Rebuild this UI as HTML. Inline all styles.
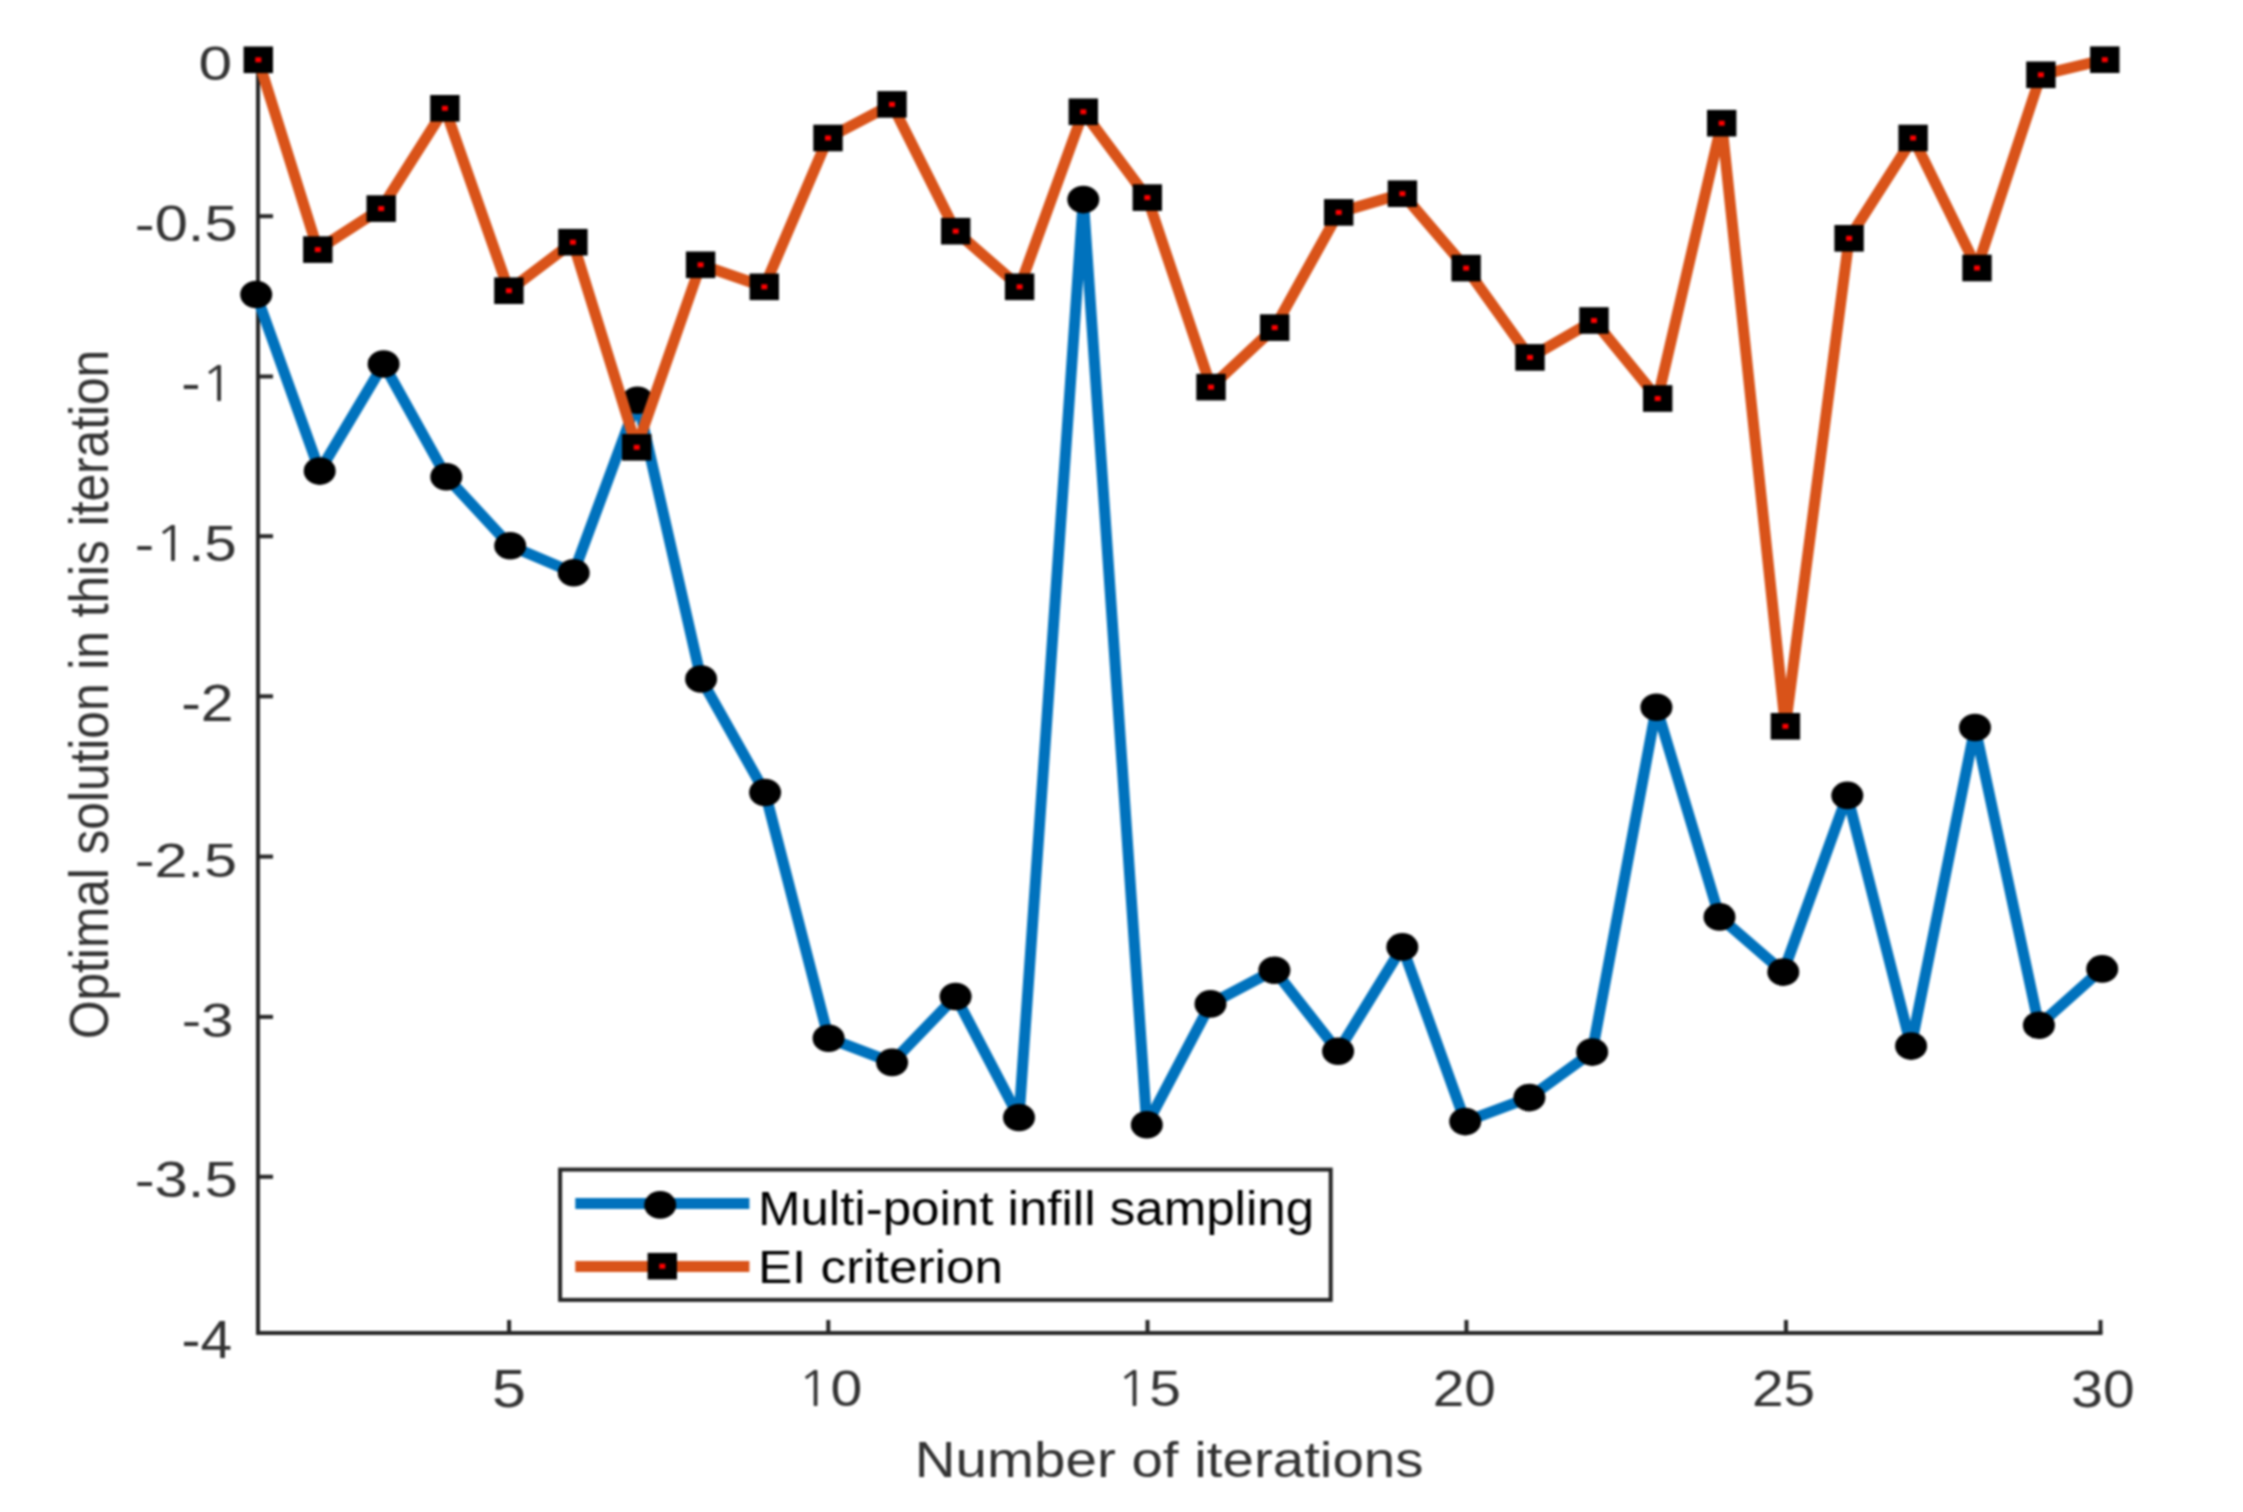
<!DOCTYPE html>
<html><head><meta charset="utf-8"><title>Optimal solution chart</title>
<style>html,body{margin:0;padding:0;background:#fff;overflow:hidden}svg{display:block;filter:blur(1px)}</style>
</head><body>
<svg width="2243" height="1512" viewBox="0 0 2243 1512">
<rect width="2243" height="1512" fill="#fff"/>
<g stroke="#262626" stroke-width="4" fill="none" stroke-linecap="butt">
<path d="M258.0,57.0 V1333.0 H2102.5"/>
<path d="M258.0,216.2 H273.0"/>
<path d="M258.0,376.5 H273.0"/>
<path d="M258.0,536.2 H273.0"/>
<path d="M258.0,696.3 H273.0"/>
<path d="M258.0,856.6 H273.0"/>
<path d="M258.0,1016.9 H273.0"/>
<path d="M258.0,1176.8 H273.0"/>
<path d="M509.1,1333.0 V1320.0"/>
<path d="M828.3,1333.0 V1320.0"/>
<path d="M1147.5,1333.0 V1320.0"/>
<path d="M1466.5,1333.0 V1320.0"/>
<path d="M1785.9,1333.0 V1320.0"/>
<path d="M2100.5,1333.0 V1320.0"/>
</g>
<polyline points="256.2,294.5 319.7,471.1 383.6,364.0 446.3,476.7 510.2,545.7 573.7,572.7 637.5,400.3 701.1,679.0 765.1,792.5 828.6,1038.2 892.1,1062.4 955.6,996.5 1019.0,1117.5 1083.3,199.6 1146.8,1124.8 1210.5,1003.9 1274.4,970.2 1338.1,1051.3 1402.3,946.9 1465.2,1121.6 1529.4,1097.6 1592.2,1052.1 1656.4,707.2 1719.5,916.9 1783.3,972.1 1847.3,795.4 1911.1,1046.1 1975.0,727.5 2038.9,1025.3 2102.2,968.9" fill="none" stroke="#0072BD" stroke-width="11" stroke-linejoin="round"/>
<g fill="#000"><ellipse cx="256.2" cy="294.5" rx="16" ry="13.8"/><ellipse cx="319.7" cy="471.1" rx="16" ry="13.8"/><ellipse cx="383.6" cy="364.0" rx="16" ry="13.8"/><ellipse cx="446.3" cy="476.7" rx="16" ry="13.8"/><ellipse cx="510.2" cy="545.7" rx="16" ry="13.8"/><ellipse cx="573.7" cy="572.7" rx="16" ry="13.8"/><ellipse cx="637.5" cy="400.3" rx="16" ry="13.8"/><ellipse cx="701.1" cy="679.0" rx="16" ry="13.8"/><ellipse cx="765.1" cy="792.5" rx="16" ry="13.8"/><ellipse cx="828.6" cy="1038.2" rx="16" ry="13.8"/><ellipse cx="892.1" cy="1062.4" rx="16" ry="13.8"/><ellipse cx="955.6" cy="996.5" rx="16" ry="13.8"/><ellipse cx="1019.0" cy="1117.5" rx="16" ry="13.8"/><ellipse cx="1083.3" cy="199.6" rx="16" ry="13.8"/><ellipse cx="1146.8" cy="1124.8" rx="16" ry="13.8"/><ellipse cx="1210.5" cy="1003.9" rx="16" ry="13.8"/><ellipse cx="1274.4" cy="970.2" rx="16" ry="13.8"/><ellipse cx="1338.1" cy="1051.3" rx="16" ry="13.8"/><ellipse cx="1402.3" cy="946.9" rx="16" ry="13.8"/><ellipse cx="1465.2" cy="1121.6" rx="16" ry="13.8"/><ellipse cx="1529.4" cy="1097.6" rx="16" ry="13.8"/><ellipse cx="1592.2" cy="1052.1" rx="16" ry="13.8"/><ellipse cx="1656.4" cy="707.2" rx="16" ry="13.8"/><ellipse cx="1719.5" cy="916.9" rx="16" ry="13.8"/><ellipse cx="1783.3" cy="972.1" rx="16" ry="13.8"/><ellipse cx="1847.3" cy="795.4" rx="16" ry="13.8"/><ellipse cx="1911.1" cy="1046.1" rx="16" ry="13.8"/><ellipse cx="1975.0" cy="727.5" rx="16" ry="13.8"/><ellipse cx="2038.9" cy="1025.3" rx="16" ry="13.8"/><ellipse cx="2102.2" cy="968.9" rx="16" ry="13.8"/></g>
<polyline points="258.3,59.8 317.8,249.6 381.2,208.6 444.9,108.3 508.9,290.7 572.9,242.2 636.7,447.3 700.6,264.8 764.3,286.8 828.0,138.0 892.0,104.4 955.7,231.2 1019.6,286.8 1083.3,111.8 1147.3,197.6 1211.0,387.1 1274.7,327.6 1338.7,212.4 1402.4,193.7 1466.1,268.1 1530.0,357.4 1594.0,320.5 1657.7,398.5 1721.7,123.2 1785.4,726.3 1849.1,238.3 1913.1,138.0 1977.0,268.0 2040.9,74.8 2104.8,59.7" fill="none" stroke="#D95319" stroke-width="11" stroke-linejoin="round"/>
<g><rect x="243.6" y="46.5" width="29.4" height="26.6" fill="#000"/><rect x="255.3" y="57.3" width="6" height="5" fill="#f00"/><rect x="303.1" y="236.3" width="29.4" height="26.6" fill="#000"/><rect x="314.8" y="247.1" width="6" height="5" fill="#f00"/><rect x="366.5" y="195.3" width="29.4" height="26.6" fill="#000"/><rect x="378.2" y="206.1" width="6" height="5" fill="#f00"/><rect x="430.2" y="95.0" width="29.4" height="26.6" fill="#000"/><rect x="441.9" y="105.8" width="6" height="5" fill="#f00"/><rect x="494.2" y="277.4" width="29.4" height="26.6" fill="#000"/><rect x="505.9" y="288.2" width="6" height="5" fill="#f00"/><rect x="558.2" y="228.9" width="29.4" height="26.6" fill="#000"/><rect x="569.9" y="239.7" width="6" height="5" fill="#f00"/><rect x="622.0" y="434.0" width="29.4" height="26.6" fill="#000"/><rect x="633.7" y="444.8" width="6" height="5" fill="#f00"/><rect x="685.9" y="251.5" width="29.4" height="26.6" fill="#000"/><rect x="697.6" y="262.3" width="6" height="5" fill="#f00"/><rect x="749.6" y="273.5" width="29.4" height="26.6" fill="#000"/><rect x="761.3" y="284.3" width="6" height="5" fill="#f00"/><rect x="813.3" y="124.7" width="29.4" height="26.6" fill="#000"/><rect x="825.0" y="135.5" width="6" height="5" fill="#f00"/><rect x="877.3" y="91.1" width="29.4" height="26.6" fill="#000"/><rect x="889.0" y="101.9" width="6" height="5" fill="#f00"/><rect x="941.0" y="217.9" width="29.4" height="26.6" fill="#000"/><rect x="952.7" y="228.7" width="6" height="5" fill="#f00"/><rect x="1004.9" y="273.5" width="29.4" height="26.6" fill="#000"/><rect x="1016.6" y="284.3" width="6" height="5" fill="#f00"/><rect x="1068.6" y="98.5" width="29.4" height="26.6" fill="#000"/><rect x="1080.3" y="109.3" width="6" height="5" fill="#f00"/><rect x="1132.6" y="184.3" width="29.4" height="26.6" fill="#000"/><rect x="1144.3" y="195.1" width="6" height="5" fill="#f00"/><rect x="1196.3" y="373.8" width="29.4" height="26.6" fill="#000"/><rect x="1208.0" y="384.6" width="6" height="5" fill="#f00"/><rect x="1260.0" y="314.3" width="29.4" height="26.6" fill="#000"/><rect x="1271.7" y="325.1" width="6" height="5" fill="#f00"/><rect x="1324.0" y="199.1" width="29.4" height="26.6" fill="#000"/><rect x="1335.7" y="209.9" width="6" height="5" fill="#f00"/><rect x="1387.7" y="180.4" width="29.4" height="26.6" fill="#000"/><rect x="1399.4" y="191.2" width="6" height="5" fill="#f00"/><rect x="1451.4" y="254.8" width="29.4" height="26.6" fill="#000"/><rect x="1463.1" y="265.6" width="6" height="5" fill="#f00"/><rect x="1515.3" y="344.1" width="29.4" height="26.6" fill="#000"/><rect x="1527.0" y="354.9" width="6" height="5" fill="#f00"/><rect x="1579.3" y="307.2" width="29.4" height="26.6" fill="#000"/><rect x="1591.0" y="318.0" width="6" height="5" fill="#f00"/><rect x="1643.0" y="385.2" width="29.4" height="26.6" fill="#000"/><rect x="1654.7" y="396.0" width="6" height="5" fill="#f00"/><rect x="1707.0" y="109.9" width="29.4" height="26.6" fill="#000"/><rect x="1718.7" y="120.7" width="6" height="5" fill="#f00"/><rect x="1770.7" y="713.0" width="29.4" height="26.6" fill="#000"/><rect x="1782.4" y="723.8" width="6" height="5" fill="#f00"/><rect x="1834.4" y="225.0" width="29.4" height="26.6" fill="#000"/><rect x="1846.1" y="235.8" width="6" height="5" fill="#f00"/><rect x="1898.4" y="124.7" width="29.4" height="26.6" fill="#000"/><rect x="1910.1" y="135.5" width="6" height="5" fill="#f00"/><rect x="1962.3" y="254.7" width="29.4" height="26.6" fill="#000"/><rect x="1974.0" y="265.5" width="6" height="5" fill="#f00"/><rect x="2026.2" y="61.5" width="29.4" height="26.6" fill="#000"/><rect x="2037.9" y="72.3" width="6" height="5" fill="#f00"/><rect x="2090.1" y="46.4" width="29.4" height="26.6" fill="#000"/><rect x="2101.8" y="57.2" width="6" height="5" fill="#f00"/></g>
<rect x="560.1" y="1169.6" width="770.6" height="130.3" fill="#fff" stroke="#262626" stroke-width="4"/>
<path d="M575.3,1203.4 H749.4" stroke="#0072BD" stroke-width="11"/>
<ellipse cx="660.2" cy="1204.9" rx="16" ry="13.8" fill="#000"/>
<path d="M575.3,1266.4 H749.4" stroke="#D95319" stroke-width="11"/>
<rect x="647.6" y="1252.9" width="29.4" height="26.6" fill="#000"/><rect x="659.3" y="1263.7" width="6" height="5" fill="#f00"/>
<g style="font-family:'Liberation Sans',Arial,Helvetica,sans-serif;font-size:50px"><text transform="matrix(1.2083 0 0 0.9444 198.5833 80.0000)" fill="#333333">0</text><text transform="matrix(1.1927 0 0 1.0139 134.8146 240.5000)" fill="#333333">-0.5</text><text transform="matrix(1.1576 0 0 1.0222 181.2848 400.8000)" fill="#333333">-<tspan style="font-family:NanumGothic;font-size:48px">1</tspan></text><text transform="matrix(1.1655 0 0 1.0139 134.8690 560.8000)" fill="#333333">-<tspan style="font-family:NanumGothic;font-size:48px">1</tspan>.5</text><text transform="matrix(1.1775 0 0 1.0250 181.1450 720.9000)" fill="#333333">-2</text><text transform="matrix(1.1878 0 0 0.9639 134.7244 876.7000)" fill="#333333">-2.5</text><text transform="matrix(1.1625 0 0 0.9750 181.7750 1036.5000)" fill="#333333">-3</text><text transform="matrix(1.1951 0 0 0.9889 134.7098 1196.6000)" fill="#333333">-3.5</text><text transform="matrix(1.1366 0 0 1.0771 181.5268 1357.7000)" fill="#333333">-4</text><text transform="matrix(1.2208 0 0 1.0714 492.0583 1407.0000)" fill="#333333">5</text><text transform="matrix(1.1417 0 0 1.0139 797.3083 1406.0000)" fill="#333333"><tspan style="font-family:NanumGothic;font-size:48px">1</tspan>0</text><text transform="matrix(1.1396 0 0 1.0139 1116.2229 1406.0000)" fill="#333333"><tspan style="font-family:NanumGothic;font-size:48px">1</tspan>5</text><text transform="matrix(1.1346 0 0 1.0139 1432.7308 1406.0000)" fill="#333333">20</text><text transform="matrix(1.1346 0 0 1.0139 1752.0308 1406.0000)" fill="#333333">25</text><text transform="matrix(1.1385 0 0 1.0417 2071.3231 1407.0000)" fill="#333333">30</text><text transform="matrix(1.1304 0 0 1.0028 914.7784 1476.6000)" fill="#333333">Number of iterations</text><text transform="matrix(0 -0.9923 1.1196 0 108.4043 1039.0846)" fill="#333333">Optimal solution in this iteration</text><text transform="matrix(1.0214 0 0 0.9478 757.9143 1224.5217)" fill="#000">Multi-point infill sampling</text><text transform="matrix(1.0263 0 0 0.9222 757.8948 1283.1000)" fill="#000">EI criterion</text></g>
</svg>
</body></html>
